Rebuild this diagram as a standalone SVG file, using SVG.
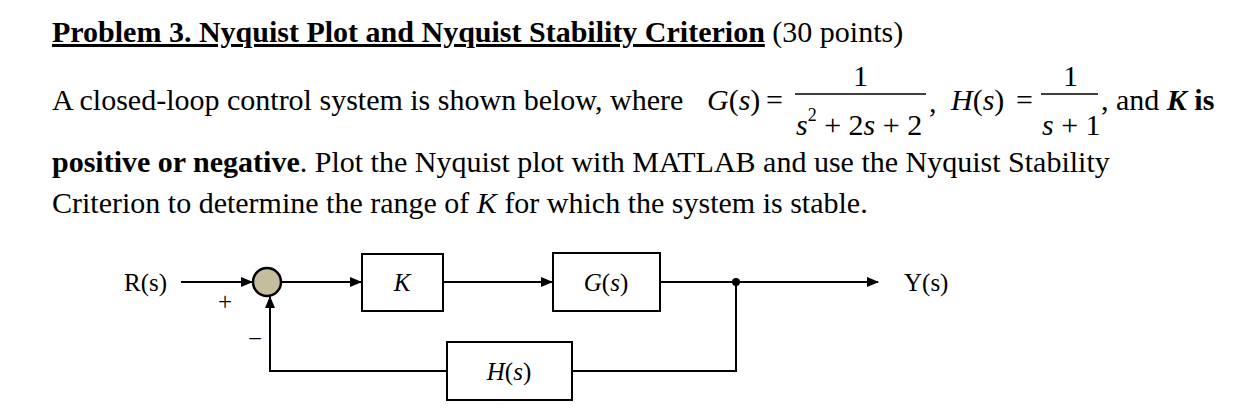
<svg xmlns="http://www.w3.org/2000/svg" width="1241" height="414" viewBox="0 0 1241 414">
<style>
text{font-family:"Liberation Serif","Times New Roman",serif;fill:#000}
.t{font-size:30px}
.d{font-size:25px}
.i{font-style:italic}
.b{font-weight:bold}
.ln{stroke:#000;stroke-width:2;fill:none}
.bx{stroke:#000;stroke-width:2;fill:#fff}
</style>
<defs><marker id="a" markerWidth="12" markerHeight="10" refX="11" refY="5" orient="auto" markerUnits="userSpaceOnUse"><path d="M0,0L12,5L0,10z" fill="#000"/></marker></defs>
<rect width="1241" height="414" fill="#fff"/>
<text class="t" x="52" y="42"><tspan class="b" text-decoration="underline">Problem 3. Nyquist Plot and Nyquist Stability Criterion</tspan> (30 points)</text>
<text class="t" x="52" y="110">A closed-loop control system is shown below, where</text>
<text class="t" x="707" y="110"><tspan class="i">G</tspan>(<tspan class="i">s</tspan>)</text>
<text class="t" x="766" y="110">=</text>
<line x1="795" y1="94" x2="926" y2="94" stroke="#000" stroke-width="1.5"/>
<text class="t" x="853" y="86">1</text>
<text class="t" x="796" y="135"><tspan class="i">s</tspan><tspan font-size="18" dy="-14">2</tspan><tspan dy="14"> + 2</tspan><tspan class="i">s</tspan> + 2</text>
<text class="t" x="929" y="112">,</text>
<text class="t" x="951" y="110"><tspan class="i">H</tspan>(<tspan class="i">s</tspan>)</text>
<text class="t" x="1016" y="110">=</text>
<line x1="1041" y1="94" x2="1098" y2="94" stroke="#000" stroke-width="1.5"/>
<text class="t" x="1063" y="86">1</text>
<text class="t" x="1042" y="135"><tspan class="i">s</tspan> + 1</text>
<text class="t" x="1101" y="110">, and <tspan class="b i">K</tspan><tspan class="b"> is</tspan></text>
<text class="t" x="52" y="172"><tspan class="b">positive or negative</tspan>. Plot the Nyquist plot with MATLAB and use the Nyquist Stability</text>
<text class="t" x="52" y="213">Criterion to determine the range of <tspan class="i">K</tspan> for which the system is stable.</text>
<g id="connectors">
<path class="ln" d="M181,282H252" marker-end="url(#a)"/>
<path class="ln" d="M282,282H361" marker-end="url(#a)"/>
<path class="ln" d="M443,282H552" marker-end="url(#a)"/>
<path class="ln" d="M660,282H878" marker-end="url(#a)"/>
<path class="ln" d="M736,282V371H572"/>
<path class="ln" d="M447,371H270V297" marker-end="url(#a)"/>
<circle cx="736" cy="282" r="4" fill="#000"/>
</g>
<g id="R"><text class="d" x="124" y="291">R(s)</text></g>
<g id="sum"><circle cx="267" cy="282" r="14" fill="#c4bd9e" stroke="#000" stroke-width="2.5"/>
<text class="d" x="218" y="310" font-size="28">+</text><text class="d" x="248" y="347" font-size="30">−</text></g>
<g id="K"><rect class="bx" x="362" y="254" width="81" height="57"/><text class="d i" x="402" y="291" text-anchor="middle">K</text></g>
<g id="G"><rect class="bx" x="553" y="253" width="107" height="58"/><text class="d" x="606" y="291" text-anchor="middle"><tspan class="i">G</tspan>(<tspan class="i">s</tspan>)</text></g>
<g id="H"><rect class="bx" x="447" y="342" width="125" height="58"/><text class="d" x="509" y="380" text-anchor="middle"><tspan class="i">H</tspan>(<tspan class="i">s</tspan>)</text></g>
<g id="Y"><text class="d" x="904" y="291">Y(s)</text></g>
</svg>
